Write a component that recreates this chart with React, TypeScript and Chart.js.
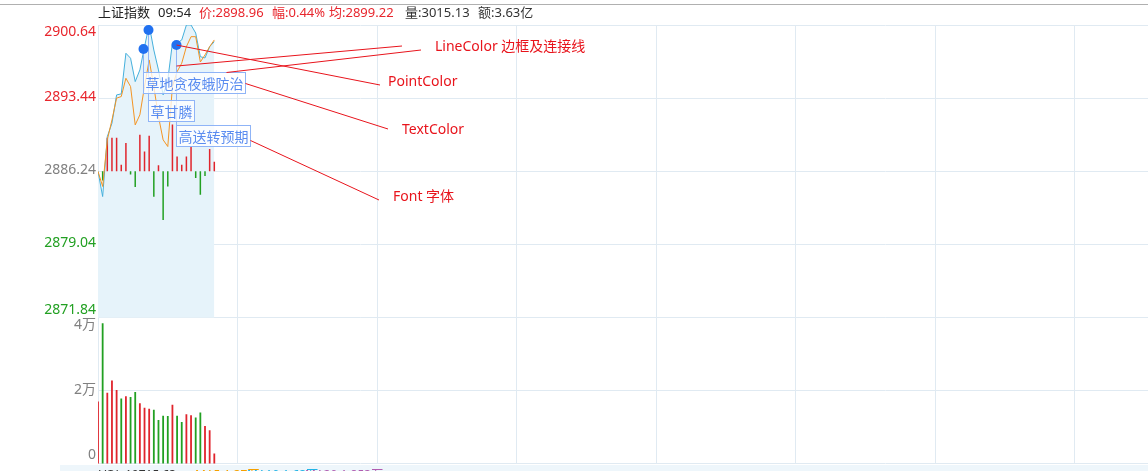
import React, { useEffect, useRef } from 'react';
import { Chart, registerables } from 'chart.js';

Chart.register(...registerables);

// ---------- data ----------
const times = ['09:30','09:31','09:32','09:33','09:34','09:35','09:36','09:37','09:38','09:39','09:40','09:41','09:42','09:43','09:44','09:45','09:46','09:47','09:48','09:49','09:50','09:51','09:52','09:53','09:54','09:55'];
const minuteIndex = [0,1,2,3,4,5,6,7,8,9,10,11,12,13,14,15,16,17,18,19,20,21,22,23,24,25];
const priceValues = [2886.24,2883.76,2889.66,2890.98,2893.76,2893.86,2897.86,2897.37,2895.07,2896.22,2898.51,2900.64,2898.18,2896.22,2893.76,2895.23,2898.87,2898.87,2899.17,2900.64,2900.64,2899.85,2897.52,2897.40,2898.51,2899.00];
const avgValues = [2886.24,2884.75,2889.34,2891.30,2893.44,2893.60,2895.40,2894.58,2890.81,2891.80,2894.58,2897.20,2894.58,2891.63,2889.34,2888.68,2894.58,2896.05,2896.88,2898.51,2899.49,2899.49,2897.00,2897.70,2898.51,2899.17];
const diffBars = [0,-0.9,3.3,3.3,3.3,0.65,2.8,-0.3,-1.55,3.6,1.95,3.5,-2.5,0.6,-4.8,-1.5,4.6,1.45,0.65,1.45,2.5,-0.65,-2.3,-0.45,2.2,0.95];
const volumes = [17100,38500,19500,22800,20200,17900,18500,18300,19700,16600,15400,15100,14800,12000,13200,13100,16200,13200,11500,13600,13300,12700,14100,10400,9200,2900];
const volumeRise = [1,0,1,1,1,0,1,0,0,1,1,1,0,0,0,0,1,0,0,1,1,0,0,1,1,1];

const baseValue = 2886.24;
const priceTicks = [2871.84, 2879.04, 2886.24, 2893.44, 2900.64];
const priceTickLabels = ['2871.84', '2879.04', '2886.24', '2893.44', '2900.64'];
const volumeTicks = [0, 20000, 40000];
const volumeTickLabels = ['0', '2万', '4万'];
const xGridMinutes = [0, 30, 60, 90, 120, 150, 180, 210];

const noteTexts = ['草地贪夜蛾防治', '草甘膦', '高送转预期'];
const noteMinutes = [9.78, 10.81, 16.77];
const noteValues = [2898.28, 2900.15, 2898.67];
const noteBoxValues = [2896.02, 2893.27, 2890.81];

const calloutTexts = ['LineColor 边框及连接线', 'PointColor', 'TextColor', 'Font 字体'];

const titleParts = ['上证指数', '09:54', '价:2898.96', '幅:0.44%', '均:2899.22', '量:3015.13', '额:3.63亿'];
const bottomParts = ['VOL:10715.63', 'MA5:1.37万', 'MA10:1.63万', 'MA20:1.853万'];

// ---------- styles ----------
const RED = '#e8262d';
const GREEN = '#22a022';
const GRAY = '#808080';
const GRID = '#e0eaf2';
const LATIN = '"Noto Sans", "Noto Sans CJK SC", sans-serif';
const CJK = '"Noto Sans CJK SC", "Noto Sans", sans-serif';

const overlayPlugin = {
  id: 'overlay',
  afterDatasetsDraw(chart: any) {
    const { ctx, scales } = chart;
    const x = scales.x, y = scales.y;
    ctx.save();
    ctx.font = '14px ' + CJK;
    const geo = noteTexts.map((t, i) => {
      const px = Math.round(x.getPixelForValue(noteMinutes[i])) + 0.5;
      const py = y.getPixelForValue(noteValues[i]);
      const top = Math.round(y.getPixelForValue(noteBoxValues[i])) + 0.5;
      const w = Math.round(ctx.measureText(t).width + 4);
      return { px, py, top, w, h: 21, t };
    });
    ctx.lineWidth = 1;
    ctx.strokeStyle = '#8fb4f7';
    geo.forEach((g) => {
      ctx.beginPath();
      ctx.moveTo(g.px, g.py);
      ctx.lineTo(g.px, g.top);
      ctx.stroke();
    });
    geo.forEach((g) => {
      ctx.fillStyle = 'rgba(255,255,255,0.75)';
      ctx.fillRect(g.px, g.top, g.w, g.h);
      ctx.strokeStyle = '#8fb4f7';
      ctx.strokeRect(g.px, g.top, g.w, g.h);
      ctx.fillStyle = '#5a8cf0';
      ctx.textBaseline = 'middle';
      ctx.textAlign = 'left';
      ctx.fillText(g.t, g.px + 2, g.top + g.h / 2 + 0.5);
    });
    geo.forEach((g) => {
      ctx.beginPath();
      ctx.arc(g.px, g.py, 5, 0, Math.PI * 2);
      ctx.fillStyle = '#2070f0';
      ctx.fill();
    });
    chart.$noteGeo = geo;
    ctx.restore();
  },
  afterDraw(chart: any) {
    const { ctx, scales } = chart;
    const y = scales.y, yv = scales.yVol;
    const area = chart.chartArea;
    ctx.save();

    // top line
    ctx.strokeStyle = '#b0b0b0';
    ctx.lineWidth = 1;
    ctx.beginPath();
    ctx.moveTo(0, 4.5);
    ctx.lineTo(chart.width, 4.5);
    ctx.stroke();

    // title
    ctx.font = '13px ' + LATIN;
    ctx.textBaseline = 'middle';
    ctx.textAlign = 'left';
    const titleX = [98, 158, 199, 272, 329, 405, 478];
    const titleColors = ['#222', '#222', RED, RED, RED, '#333', '#333'];
    titleParts.forEach((t, i) => {
      ctx.fillStyle = titleColors[i];
      ctx.fillText(t, titleX[i], 13.5);
    });

    // axis labels
    ctx.font = '14px ' + LATIN;
    ctx.textAlign = 'right';
    ctx.textBaseline = 'middle';
    priceTicks.forEach((v, i) => {
      let py = y.getPixelForValue(v);
      if (i === priceTicks.length - 1) py += 7;
      else if (i === 0) py -= 8;
      else py -= 1;
      ctx.fillStyle = v > baseValue ? RED : v < baseValue ? GREEN : GRAY;
      ctx.fillText(priceTickLabels[i], 96, py);
    });
    volumeTicks.forEach((v, i) => {
      let py = yv.getPixelForValue(v);
      if (i === volumeTicks.length - 1) py += 7;
      else if (i === 0) py -= 9;
      else py -= 1;
      ctx.fillStyle = GRAY;
      ctx.fillText(volumeTickLabels[i], 96, py);
    });

    // bottom strip
    ctx.fillStyle = '#eef6fb';
    ctx.fillRect(60, area.bottom + 1, chart.width - 60, chart.height - area.bottom);
    ctx.font = '12px ' + LATIN;
    ctx.textAlign = 'left';
    ctx.textBaseline = 'top';
    const bx = [99, 195, 247, 305];
    const bc = ['#333', '#f5a000', '#22b4e6', '#b05cb0'];
    bottomParts.forEach((t, i) => {
      ctx.fillStyle = bc[i];
      ctx.fillText(t, bx[i], area.bottom + 6);
    });

    // callouts
    const geo = chart.$noteGeo;
    if (geo) {
      const a = geo[0], c = geo[2];
      const lines = [
        [c.px, c.py + 21, 402, 46],
        [a.px + 83, a.top, 421, 50],
        [c.px, c.py, 380, 85],
        [a.px + a.w, a.top + 11, 388, 129],
        [c.px + c.w, c.top + 15, 379, 200],
      ];
      ctx.strokeStyle = '#e8141c';
      ctx.lineWidth = 1;
      lines.forEach((l) => {
        ctx.beginPath();
        ctx.moveTo(l[0], l[1]);
        ctx.lineTo(l[2], l[3]);
        ctx.stroke();
      });
      ctx.font = '14px ' + LATIN;
      ctx.fillStyle = '#e8141c';
      ctx.textAlign = 'left';
      ctx.textBaseline = 'middle';
      const tx = [435, 388, 402, 393];
      const ty = [47, 82, 130, 197];
      calloutTexts.forEach((t, i) => ctx.fillText(t, tx[i], ty[i]));
    }
    ctx.restore();
  },
};

export default function App() {
  const ref = useRef<HTMLCanvasElement | null>(null);
  useEffect(() => {
    if (!ref.current) return;
    const chart = new Chart(ref.current, {
      type: 'line',
      data: {
        datasets: [
          {
            type: 'line',
            label: '价格',
            data: minuteIndex.map((m, i) => ({ x: m, y: priceValues[i] })),
            borderColor: '#45b0dc',
            borderWidth: 1,
            pointRadius: 0,
            tension: 0,
            fill: { value: priceTicks[0] },
            backgroundColor: '#e6f3fa',
            yAxisID: 'y',
            order: 1,
          },
          {
            type: 'line',
            label: '均价',
            data: minuteIndex.map((m, i) => ({ x: m, y: avgValues[i] })),
            borderColor: '#f39423',
            borderWidth: 1,
            pointRadius: 0,
            tension: 0,
            fill: false,
            yAxisID: 'y',
            order: 0,
          },
          {
            type: 'bar',
            label: '涨跌',
            data: minuteIndex.map((m, i) => ({ x: m, y: [baseValue, baseValue + diffBars[i]] })),
            backgroundColor: diffBars.map((d) => (d >= 0 ? '#e0242c' : '#22a022')),
            grouped: false,
            maxBarThickness: 1.5,
            yAxisID: 'y',
            order: 2,
          },
          {
            type: 'bar',
            label: '成交量',
            data: minuteIndex.map((m, i) => ({ x: m, y: volumes[i] })),
            backgroundColor: volumeRise.map((r) => (r ? '#e0242c' : '#22a022')),
            grouped: false,
            maxBarThickness: 1.8,
            yAxisID: 'yVol',
            order: 2,
          },
        ] as any,
      },
      options: {
        animation: false,
        responsive: false,
        layout: { padding: { top: 25, left: 0, right: 0, bottom: 0 } },
        plugins: {
          legend: { display: false },
          tooltip: { enabled: false },
          filler: { drawTime: 'beforeDatasetsDraw' },
        } as any,
        scales: {
          x: {
            type: 'linear',
            offset: false,
            min: 0,
            max: 225.7,
            ticks: { display: false },
            grid: { color: GRID, drawTicks: false, offset: false },
            border: { display: false },
            afterFit: (s: any) => { s.height = 7; },
            afterBuildTicks: (s: any) => { s.ticks = xGridMinutes.map((v) => ({ value: v })); },
          },
          yVol: {
            type: 'linear',
            position: 'left',
            stack: 'v',
            stackWeight: 1,
            min: 0,
            max: 40000,
            ticks: { display: false },
            grid: { color: GRID, drawTicks: false },
            border: { display: false },
            afterFit: (s: any) => { s.width = 98; },
            afterBuildTicks: (s: any) => { s.ticks = volumeTicks.map((v) => ({ value: v })); },
          },
          y: {
            type: 'linear',
            position: 'left',
            stack: 'v',
            stackWeight: 2,
            min: priceTicks[0],
            max: priceTicks[priceTicks.length - 1],
            ticks: { display: false },
            grid: { color: GRID, drawTicks: false },
            border: { display: false },
            afterFit: (s: any) => { s.width = 98; },
            afterBuildTicks: (s: any) => { s.ticks = priceTicks.map((v) => ({ value: v })); },
          },
        } as any,
      },
      plugins: [overlayPlugin],
    });
    return () => chart.destroy();
  }, []);

  return (
    <div style={{ position: 'absolute', left: 0, top: 0, width: 1148, height: 471, overflow: 'hidden', background: '#fff' }}>
      <canvas ref={ref} width={1148} height={471} style={{ width: 1148, height: 471, display: 'block' }} />
    </div>
  );
}
